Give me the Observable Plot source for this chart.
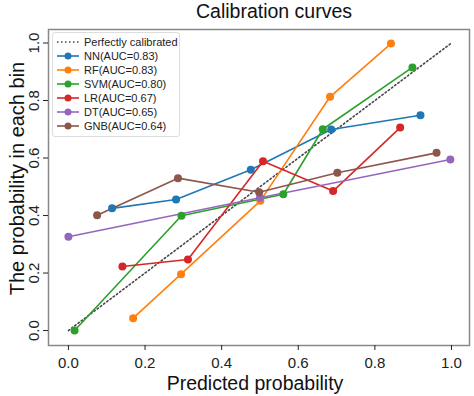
<!DOCTYPE html>
<html>
<head>
<meta charset="utf-8">
<script src="https://cdn.jsdelivr.net/npm/d3@7"></script>
<script src="https://cdn.jsdelivr.net/npm/@observablehq/plot@0.6"></script>
<style>
  html, body { margin: 0; padding: 0; background: #fff; }
  body { width: 474px; height: 396px; position: relative; overflow: hidden; font-family: "Liberation Sans", Arial, sans-serif; }
  #title { position: absolute; left: 74px; width: 400px; top: 0; height: 23px; text-align: center; font-size: 19.5px; line-height: 23px; color: #111; }
  #chart { position: absolute; left: 0; top: 24px; }
  #legend { position: absolute; left: 52px; top: 32px; width: 126px; height: 103px; border: 1px solid #ddd; border-radius: 3px; background: rgba(255,255,255,0.85); font-size: 11px; color: #222; }
  .row { position: absolute; left: 3px; height: 14px; display: flex; align-items: center; white-space: nowrap; }
  .row svg { margin-right: 4px; }
</style>
</head>
<body>
<div id="title">Calibration curves</div>
<div id="chart"></div>
<div id="legend"></div>
<script>
// ---- data ----
const seriesNames = ["NN(AUC=0.83)", "RF(AUC=0.83)", "SVM(AUC=0.80)", "LR(AUC=0.67)", "DT(AUC=0.65)", "GNB(AUC=0.64)"];
const seriesColors = ["#1f77b4", "#ff7f0e", "#2ca02c", "#d62728", "#9467bd", "#8c564b"];

const nnX  = [0.114, 0.281, 0.476, 0.686, 0.919];
const nnY  = [0.425, 0.456, 0.559, 0.699, 0.749];
const rfX  = [0.169, 0.294, 0.501, 0.683, 0.842];
const rfY  = [0.043, 0.196, 0.451, 0.813, 0.998];
const svmX = [0.016, 0.295, 0.561, 0.664, 0.898];
const svmY = [0.000, 0.399, 0.474, 0.700, 0.915];
const lrX  = [0.141, 0.312, 0.508, 0.691, 0.866];
const lrY  = [0.223, 0.247, 0.589, 0.485, 0.706];
const dtX  = [0.000, 0.500, 0.997];
const dtY  = [0.326, 0.462, 0.595];
const gnbX = [0.075, 0.286, 0.498, 0.702, 0.961];
const gnbY = [0.401, 0.530, 0.481, 0.549, 0.618];

const diagonal = [0, 1];
const tickValues = [0, 0.2, 0.4, 0.6, 0.8, 1.0];

const xs = [nnX, rfX, svmX, lrX, dtX, gnbX];
const ys = [nnY, rfY, svmY, lrY, dtY, gnbY];

const rows = [];
xs.forEach((xa, i) => xa.forEach((x, j) => rows.push({series: seriesNames[i], x, y: ys[i][j]})));
const diag = diagonal.map(v => ({x: v, y: v}));

const plot = Plot.plot({
  width: 474,
  height: 372,
  marginLeft: 48,
  marginRight: 5,
  marginTop: 5,
  marginBottom: 51,
  style: {fontFamily: '"Liberation Sans", Arial, sans-serif', background: "#fff"},
  x: {domain: [-0.052, 1.047]},
  y: {domain: [-0.052, 1.047]},
  color: {domain: seriesNames, range: seriesColors},
  marks: [
    Plot.line(diag, {x: "x", y: "y", stroke: "#444", strokeWidth: 1.6, strokeDasharray: "1.5,2.5"}),
    Plot.line(rows, {x: "x", y: "y", stroke: "series", z: "series", strokeWidth: 1.6}),
    Plot.dot(rows, {x: "x", y: "y", fill: "series", r: 4}),
    Plot.frame({stroke: "#888", strokeWidth: 1.5}),
    Plot.axisX({ticks: tickValues, tickFormat: d3.format(".1f"), fontSize: 15, tickSize: 5, tickPadding: 7, label: null, color: "#222"}),
    Plot.axisY({ticks: tickValues, tickFormat: d3.format(".1f"), fontSize: 15, tickSize: 5, tickPadding: 5, tickRotate: -90, label: null, color: "#222"}),
    Plot.text(["Predicted probability"], {frameAnchor: "bottom", dy: 44, dx: -4, fontSize: 19.5, fill: "#111"}),
    Plot.text(["The probability in each bin"], {frameAnchor: "left", dx: -31, dy: -9, rotate: -90, textAnchor: "middle", fontSize: 20, fill: "#111"})
  ]
});
document.getElementById("chart").appendChild(plot);

// ---- legend ----
const legend = document.getElementById("legend");
const entries = [{name: "Perfectly calibrated", color: "#444", dotted: true}]
  .concat(seriesNames.map((n, i) => ({name: n, color: seriesColors[i], dotted: false})));
entries.forEach((e, i) => {
  const row = document.createElement("div");
  row.className = "row";
  row.style.top = (2 + i * 14) + "px";
  const sw = e.dotted
    ? `<svg width="24" height="10"><line x1="1" y1="5" x2="23" y2="5" stroke="${e.color}" stroke-width="1.6" stroke-dasharray="1.5,2.5"/></svg>`
    : `<svg width="24" height="10"><line x1="1" y1="5" x2="23" y2="5" stroke="${e.color}" stroke-width="1.6"/><circle cx="12" cy="5" r="3.5" fill="${e.color}"/></svg>`;
  row.innerHTML = sw + `<span>${e.name}</span>`;
  legend.appendChild(row);
});
</script>
</body>
</html>
